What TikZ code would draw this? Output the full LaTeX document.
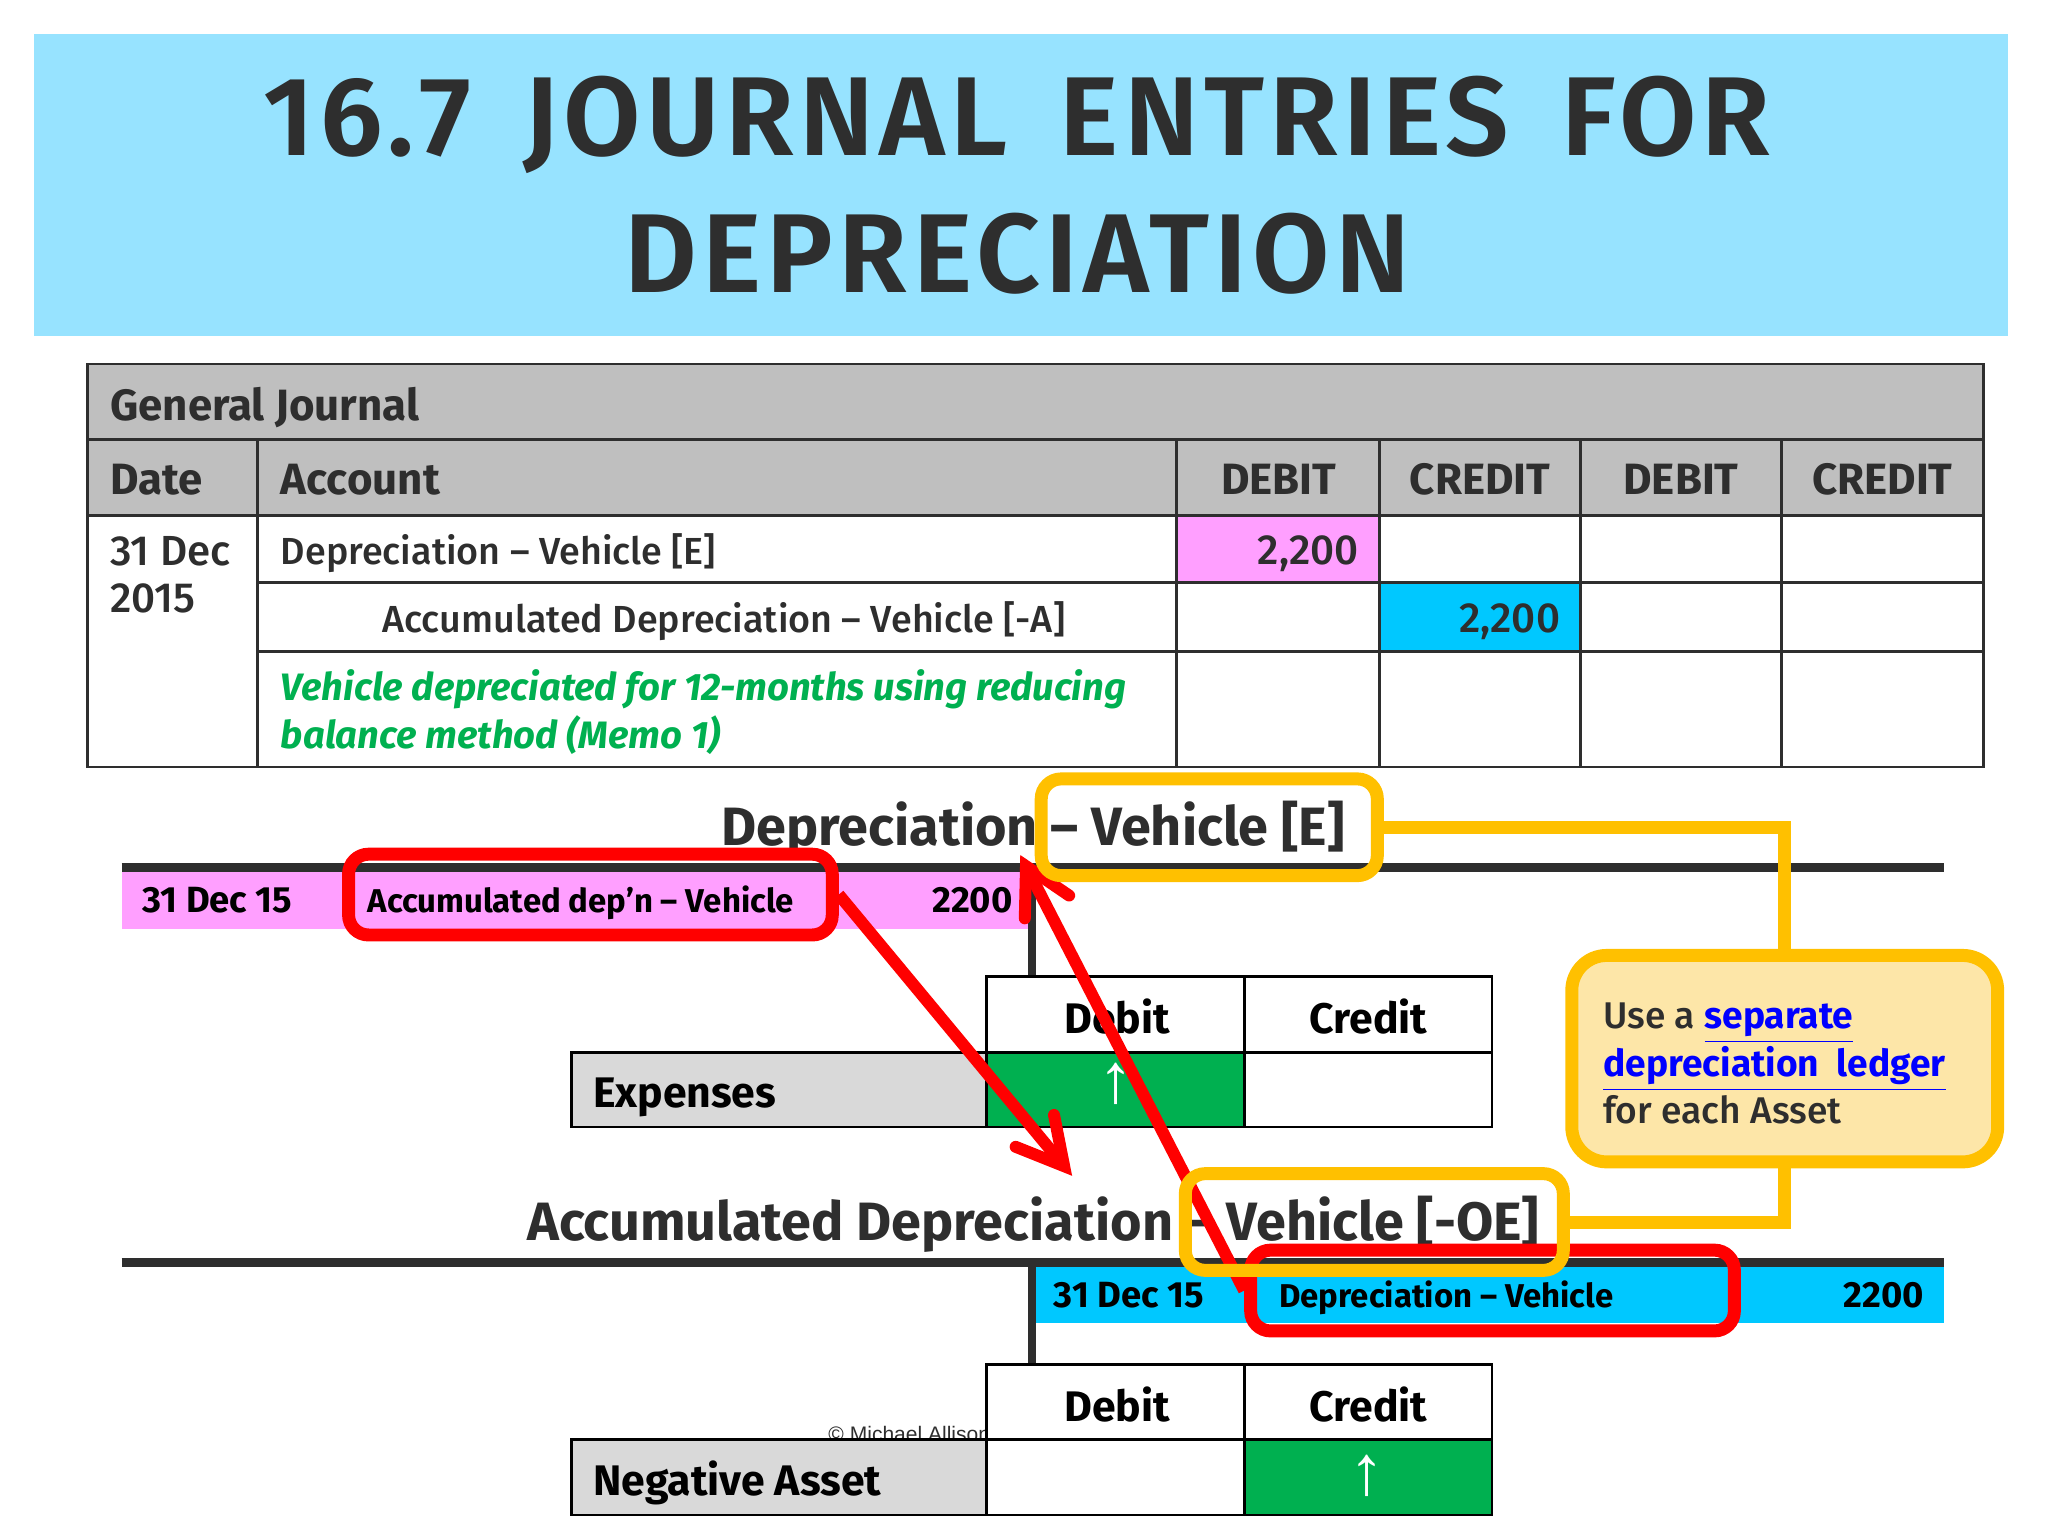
\documentclass[tikz,border=0pt]{standalone}
\usepackage{fontspec}
\usepackage{xcolor}
\usetikzlibrary{arrows.meta}
\setmainfont{Fira Sans Medium}[BoldFont=Fira Sans Bold]
\newfontfamily\titlefont[LetterSpace=4.7, WordSpace=1.6]{Fira Sans SemiBold}
\newfontfamily\arrowfont{Liberation Sans}
\definecolor{bandblue}{HTML}{97E3FF}
\definecolor{inkgrey}{HTML}{2E2E2E}
\definecolor{headgrey}{HTML}{BFBFBF}
\definecolor{labelgrey}{HTML}{D9D9D9}
\definecolor{debitpink}{HTML}{FF9FFF}
\definecolor{creditblue}{HTML}{00C8FF}
\definecolor{upgreen}{HTML}{00B050}
\definecolor{boxred}{HTML}{FF0000}
\definecolor{boxyellow}{HTML}{FFC000}
\definecolor{notefill}{HTML}{FDE6A8}
\tikzset{
	grid/.style={draw=inkgrey, line width=0.8pt},
	tgrid/.style={draw=black, line width=0.8pt},
	txt/.style={inner sep=0pt, text=inkgrey, font=\fontsize{10.75}{12}\selectfont},
	numtxt/.style={inner sep=0pt, text=inkgrey, font=\fontsize{12}{14}\selectfont},
	headtxt/.style={inner sep=0pt, text=inkgrey, font=\fontsize{12.5}{14}\selectfont\bfseries},
	memotxt/.style={inner sep=0pt, text=upgreen, font=\fontsize{10.9}{13}\selectfont\bfseries\itshape},
	stripetxt/.style={inner sep=0pt, text=black, font=\fontsize{9.4}{12}\selectfont\bfseries},
	stripenum/.style={inner sep=0pt, text=black, font=\fontsize{10.4}{12}\selectfont\bfseries},
	ledgertxt/.style={inner sep=0pt, text=inkgrey, font=\fontsize{15.4}{18}\selectfont\bfseries},
	ttxt/.style={inner sep=0pt, text=black, font=\fontsize{12.2}{14}\selectfont\bfseries},
	uparrow/.style={inner sep=0pt, text=white, font=\fontsize{20}{22}\selectfont\arrowfont},
	notetxt/.style={inner sep=0pt, text=inkgrey, font=\fontsize{10.6}{12}\selectfont},
	redbox/.style={draw=boxred, line width=0.13cm, rounded corners=0.2cm, minimum width=4.85cm, minimum height=0.81cm},
	yellowbox/.style={draw=boxyellow, line width=0.13cm, rounded corners=0.2cm},
	redarrow/.style={draw=boxred, line width=0.12cm, -{Straight Barb[length=0.46cm, width=0.5cm, line cap=round, line join=miter]}},
	yellowline/.style={draw=boxyellow, line width=0.13cm},
}
\begin{document}
\begin{tikzpicture}
	\useasboundingbox (0, -0.0416) rectangle (20.535, 15.36);
	% Title band:
	\fill[bandblue] (0.34, 11.99) rectangle (20.13, 15.02);
	\node[text=inkgrey, font=\fontsize{32}{36}\selectfont\titlefont] (title1) at (10.20, 14.11){16.7 JOURNAL ENTRIES FOR};
	\node[text=inkgrey, font=\fontsize{32}{36}\selectfont\titlefont] (title2) at (10.20, 12.82){DEPRECIATION};
	% General journal:
	\fill[headgrey] (0.88, 10.19) rectangle (19.89, 11.71);
	\fill[debitpink] (11.80, 9.52) rectangle (13.83, 10.19);
	\fill[creditblue] (13.83, 8.83) rectangle (15.85, 9.52);
	\draw[grid] (0.88, 7.67) rectangle (19.89, 11.71);
	\draw[grid] (0.88, 10.95) -- (19.89, 10.95);
	\draw[grid] (0.88, 10.19) -- (19.89, 10.19);
	\draw[grid] (2.58, 9.52) -- (19.89, 9.52);
	\draw[grid] (2.58, 8.83) -- (19.89, 8.83);
	\draw[grid] (2.58, 7.67) -- (2.58, 10.95);
	\draw[grid] (11.80, 7.67) -- (11.80, 10.95);
	\draw[grid] (13.83, 7.67) -- (13.83, 10.95);
	\draw[grid] (15.85, 7.67) -- (15.85, 10.95);
	\draw[grid] (17.86, 7.67) -- (17.86, 10.95);
	\node[headtxt, anchor=mid west] (journal) at (1.10, 11.24){General Journal};
	\node[headtxt, anchor=mid west] (date) at (1.10, 10.49){Date};
	\node[headtxt, anchor=mid west] (account) at (2.81, 10.49){Account};
	\node[headtxt, anchor=mid] (debit1) at (12.82, 10.49){DEBIT};
	\node[headtxt, anchor=mid] (credit1) at (14.84, 10.49){CREDIT};
	\node[headtxt, anchor=mid] (debit2) at (16.855, 10.49){DEBIT};
	\node[headtxt, anchor=mid] (credit2) at (18.875, 10.49){CREDIT};
	\node[numtxt, anchor=mid west] (day) at (1.10, 9.78){31 Dec};
	\node[numtxt, anchor=mid west] (year) at (1.10, 9.31){2015};
	\node[txt, anchor=mid west] (depacc) at (2.81, 9.79){Depreciation – Vehicle [E]};
	\node[txt, anchor=mid west] (accacc) at (3.83, 9.11){Accumulated Depreciation – Vehicle [-A]};
	\node[numtxt, anchor=mid east] (amount1) at (13.63, 9.79){2,200};
	\node[numtxt, anchor=mid east] (amount2) at (15.65, 9.11){2,200};
	\node[memotxt, anchor=mid west] (memo1) at (2.81, 8.43){Vehicle depreciated for 12-months using reducing};
	\node[memotxt, anchor=mid west] (memo2) at (2.81, 7.95){balance method (Memo 1)};
	% Depreciation ledger:
	\fill[debitpink] (1.22, 6.05) rectangle (10.35, 6.62);
	\node[ledgertxt] (depname) at (10.36, 7.04){Depreciation – Vehicle [E]};
	\draw[inkgrey, line width=0.09cm] (1.22, 6.66) -- (19.49, 6.66);
	\draw[inkgrey, line width=0.08cm] (10.35, 6.66) -- (10.35, 5.57);
	\node[stripenum, anchor=mid west] (depdate) at (1.42, 6.30){31 Dec 15};
	\node[stripetxt, anchor=mid west] (depentry) at (3.68, 6.30){Accumulated dep’n – Vehicle};
	\node[stripenum, anchor=mid east] (depvalue) at (10.16, 6.30){2200};
	% Expenses table:
	\fill[labelgrey] (5.73, 4.06) rectangle (9.89, 4.81);
	\fill[upgreen] (9.89, 4.06) rectangle (12.48, 4.81);
	\draw[tgrid] (9.89, 5.57) rectangle (14.96, 4.06);
	\draw[tgrid] (5.73, 4.81) rectangle (14.96, 4.06);
	\draw[tgrid] (9.89, 5.57) -- (9.89, 4.06);
	\draw[tgrid] (12.48, 5.57) -- (12.48, 4.06);
	\node[ttxt, anchor=mid] (expdebit) at (11.20, 5.09){Debit};
	\node[ttxt, anchor=mid] (expcredit) at (13.72, 5.09){Credit};
	\node[ttxt, anchor=mid west] (expenses) at (5.94, 4.35){Expenses};
	\node[uparrow] (expup) at (11.19, 4.49){↑};
	% Accumulated depreciation ledger:
	\fill[creditblue] (10.38, 2.09) rectangle (19.49, 2.66);
	\node[ledgertxt] (accname) at (10.36, 3.08){Accumulated Depreciation – Vehicle [-OE]};
	\draw[inkgrey, line width=0.09cm] (1.22, 2.705) -- (19.49, 2.705);
	\draw[inkgrey, line width=0.08cm] (10.35, 2.705) -- (10.35, 1.68);
	\node[stripenum, anchor=mid west] (accdate) at (10.56, 2.345){31 Dec 15};
	\node[stripetxt, anchor=mid west] (accentry) at (12.82, 2.345){Depreciation – Vehicle};
	\node[stripenum, anchor=mid east] (accvalue) at (19.30, 2.345){2200};
	% Negative asset table:
	\node[inner sep=0pt, text=inkgrey, anchor=base west, font=\fontsize{6}{7}\selectfont\arrowfont] (mark) at (8.30, 0.91){© Michael Allison};
	\fill[labelgrey] (5.73, 0.17) rectangle (9.89, 0.93);
	\fill[white] (9.89, 0.17) rectangle (12.48, 1.68);
	\fill[upgreen] (12.48, 0.17) rectangle (14.96, 0.93);
	\draw[tgrid] (9.89, 1.68) rectangle (14.96, 0.17);
	\draw[tgrid] (5.73, 0.93) rectangle (14.96, 0.17);
	\draw[tgrid] (9.89, 1.68) -- (9.89, 0.17);
	\draw[tgrid] (12.48, 1.68) -- (12.48, 0.17);
	\node[ttxt, anchor=mid] (negdebit) at (11.20, 1.20){Debit};
	\node[ttxt, anchor=mid] (negcredit) at (13.72, 1.20){Credit};
	\node[ttxt, anchor=mid west] (negasset) at (5.94, 0.46){Negative Asset};
	\node[uparrow] (negup) at (13.71, 0.56){↑};
	% Red boxes and arrows:
	\node[redbox] (depnbox) at (5.92, 6.39){};
	\node[redbox] (debbox) at (14.965, 2.42){};
	\coordinate (acctip) at (10.75, 3.57);
	\coordinate (deptip) at (10.23, 6.787);
	\draw[redarrow] (depnbox.east) -- (acctip);
	\draw[redarrow] (debbox.west) -- (deptip);
	% Yellow boxes and note:
	\node[yellowbox, minimum width=3.37cm, minimum height=0.97cm] (vehbox) at (12.125, 7.065){};
	\node[yellowbox, minimum width=3.79cm, minimum height=0.97cm] (oebox) at (13.78, 3.107){};
	\node[draw=boxyellow, fill=notefill, line width=0.13cm, rounded corners=0.35cm, minimum width=4.27cm, minimum height=2.07cm] (note) at (17.895, 4.745){};
	\draw[yellowline] (vehbox.east) -| (note.north);
	\draw[yellowline] (note.south) |- (oebox.east);
	\node[notetxt, anchor=mid west] (note1) at (16.07, 5.14){Use a \textcolor{blue}{\bfseries\underline{separate}}};
	\node[notetxt, anchor=mid west] (note2) at (16.07, 4.66){\textcolor{blue}{\bfseries\underline{depreciation\ \ ledger}}};
	\node[notetxt, anchor=mid west] (note3) at (16.07, 4.19){for each Asset};
\end{tikzpicture}
\end{document}
